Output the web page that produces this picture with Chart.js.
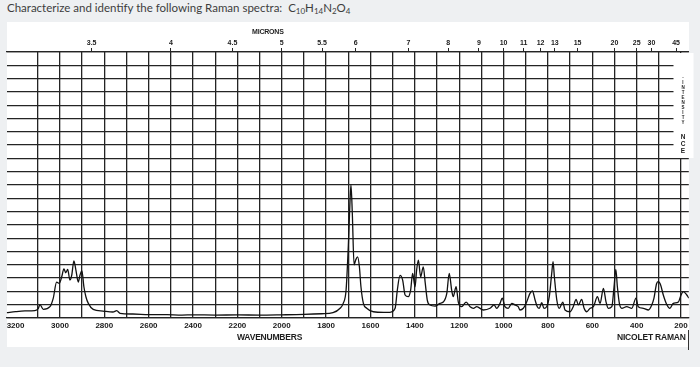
<!DOCTYPE html>
<html>
<head>
<meta charset="utf-8">
<script src="https://cdn.jsdelivr.net/npm/chart.js@4.4.1/dist/chart.umd.min.js"></script>
<style>
  body { margin: 0; background: #eef0f2; width: 700px; height: 367px; overflow: hidden; position: relative; font-family: "Liberation Sans", Arial, sans-serif; }
  #titulo { position: absolute; left: 7px; top: 1px; font-family: Lato, sans-serif; font-size: 11.5px; line-height: 13px; color: #3d3d3d; white-space: nowrap; }
  #titulo sub { font-size: 8px; vertical-align: -2px; line-height: 0; }
  #painel { position: absolute; left: 7px; top: 22px; width: 682px; height: 325px; background: #fff; }
  #grafico1 { position: absolute; left: 0; top: 0; }
  .rotulo { position: absolute; font-weight: bold; color: #1e1e1e; white-space: nowrap; letter-spacing: -0.2px; }
  #barraDir { position: absolute; left: 688px; top: 330px; width: 1px; height: 20px; background: #333; }
  .letra { position: absolute; left: 680px; width: 6px; text-align: center; font-weight: bold; color: #222; line-height: 1; }
</style>
</head>
<body>
<div id="titulo">Characterize and identify the following Raman spectra:&nbsp; C<sub>10</sub>H<sub>14</sub>N<sub>2</sub>O<sub>4</sub></div>
<div id="painel"></div>
<canvas id="grafico1" width="700" height="367"></canvas>
<div class="rotulo" style="left:252px; top:28px; font-size:7px;">MICRONS</div>
<div class="rotulo" style="left:237px; top:332px; font-size:8.5px;">WAVENUMBERS</div>
<div class="rotulo" style="left:617px; top:332px; font-size:8.5px;">NICOLET RAMAN</div>
<div id="barraDir"></div>
<div id="intensidade"></div>
<script>
// espectro Raman (numero de onda em cm-1, intensidade em divisoes da grade)
const numerosOnda = [3240, 3200, 3158, 3113, 3098, 3090, 3075, 3045, 3030, 3015, 3003, 2992, 2982, 2974, 2965, 2955, 2947, 2937, 2928, 2917, 2910, 2901, 2892, 2883, 2872, 2850, 2806, 2761, 2744, 2729, 2671, 2600, 2517, 2450, 2400, 2300, 2200, 2100, 2000, 1900, 1820, 1769, 1737, 1723, 1710, 1700, 1692, 1688, 1682, 1674, 1667, 1658, 1650, 1643, 1632, 1617, 1587, 1540, 1512, 1489, 1479, 1467, 1455, 1444, 1430, 1419, 1410, 1399, 1392, 1384, 1374, 1362, 1353, 1344, 1332, 1309, 1287, 1272, 1256, 1245, 1234, 1227, 1214, 1204, 1189, 1169, 1151, 1136, 1121, 1091, 1061, 1043, 1031, 1016, 1006, 994, 979, 963, 948, 934, 926, 911, 896, 881, 870, 858, 848, 839, 828, 818, 806, 794, 783, 777, 771, 760, 749, 733, 723, 700, 686, 673, 663, 648, 637, 625, 610, 595, 577, 565, 550, 538, 528, 512, 502, 494, 487, 478, 467, 445, 422, 403, 393, 370, 347, 332, 322, 310, 302, 292, 280, 264, 250, 235, 212, 200, 190, 174, 165];
const intensidades = [0.4, 0.48, 0.53, 0.55, 0.7, 1.0, 0.65, 0.85, 1.5, 2.7, 2.6, 3.1, 3.7, 3.4, 3.65, 2.85, 3.2, 4.3, 3.6, 2.7, 3.2, 3.55, 2.35, 1.6, 1.1, 0.65, 0.52, 0.45, 0.55, 0.35, 0.3, 0.26, 0.25, 0.22, 0.24, 0.22, 0.23, 0.22, 0.24, 0.27, 0.32, 0.4, 0.73, 1.1, 2.1, 5.4, 8.9, 10.0, 7.9, 4.0, 4.35, 4.6, 3.85, 2.35, 1.1, 0.73, 0.47, 0.43, 0.43, 0.73, 2.1, 3.2, 2.85, 1.73, 1.6, 2.1, 3.35, 2.35, 3.6, 4.35, 3.1, 3.85, 2.6, 1.35, 0.98, 0.9, 1.1, 1.2, 1.85, 3.35, 2.1, 1.6, 2.35, 1.2, 0.85, 1.2, 0.85, 0.73, 0.85, 0.6, 0.73, 0.98, 0.73, 1.1, 1.5, 0.85, 0.73, 1.1, 0.98, 0.85, 0.6, 0.73, 1.2, 1.85, 2.03, 1.35, 0.85, 0.73, 1.15, 0.73, 0.85, 1.6, 3.35, 4.23, 3.1, 1.35, 0.73, 1.2, 0.6, 0.47, 0.85, 1.4, 0.98, 1.4, 0.73, 0.47, 0.73, 0.85, 1.6, 1.1, 2.23, 1.2, 0.73, 0.85, 2.35, 3.65, 2.35, 1.1, 0.73, 0.85, 0.73, 1.5, 0.85, 0.73, 0.6, 0.98, 1.5, 2.6, 2.73, 2.48, 1.73, 1.0, 0.73, 1.1, 1.2, 1.73, 1.98, 1.73, 1.5];

// eixo de baixo: linhas a cada 100 (a de 3200 nao aparece), rotulo a cada 200
const gradeOnda = [];
for (var w = 200; w <= 3200; w += 100) gradeOnda.push(w);
const rotulosOnda = [200, 400, 600, 800, 1000, 1200, 1400, 1600, 1800, 2000, 2200, 2400, 2600, 2800, 3000, 3200];

// eixo de cima em microns
const microns = [3.5, 4, 4.5, 5, 5.5, 6, 7, 8, 9, 10, 11, 12, 13, 15, 20, 25, 30, 45];

const corGrade = '#242424';

// letras verticais do lado direito
const letrasPequenas = ['-', 'I', 'N', 'T', 'E', 'N', 'S', 'I', 'T', 'Y'];
const letrasGrandes = ['N', 'C', 'E'];
var htmlLetras = '';
for (var i = 0; i < letrasPequenas.length; i++) {
  htmlLetras += `<div class="letra" style="top:${76 + i * 5}px; font-size:4.5px;">${letrasPequenas[i]}</div>`;
}
for (var i = 0; i < letrasGrandes.length; i++) {
  htmlLetras += `<div class="letra" style="top:${134 + i * 7}px; font-size:6.5px;">${letrasGrandes[i]}</div>`;
}
document.getElementById('intensidade').innerHTML = htmlLetras;

const pontos = numerosOnda.map(function (w, i) { return { x: w, y: intensidades[i] }; });

// tapa o canto de cima a direita (onde fica INTENSITY)
const tapaCanto = {
  id: 'tapaCanto',
  afterDraw: function (chart) {
    const ctx = chart.ctx;
    ctx.save();
    ctx.fillStyle = '#fff';
    ctx.fillRect(673.5, chart.chartArea.top + 1, 20, 105);
    ctx.restore();
  }
};

new Chart(document.getElementById('grafico1'), {
  type: 'line',
  data: {
    datasets: [{
      data: pontos,
      borderColor: '#111',
      borderWidth: 1.3,
      pointRadius: 0,
      cubicInterpolationMode: 'monotone',
      fill: false
    }]
  },
  options: {
    responsive: false,
    animation: false,
    devicePixelRatio: 1,
    layout: { padding: { left: 6.7, right: 11.2, top: 30, bottom: 19 } },
    plugins: { legend: { display: false }, tooltip: { enabled: false } },
    scales: {
      x: {
        type: 'linear',
        position: 'bottom',
        min: 165,
        max: 3240,
        reverse: true,
        afterBuildTicks: function (s) { s.ticks = gradeOnda.map(function (v) { return { value: v }; }); },
        afterFit: function (s) { s.height = 30; },
        ticks: {
          autoSkip: false,
          maxRotation: 0,
          padding: 3,
          color: '#1a1a1a',
          font: { family: 'Liberation Sans', size: 8, weight: 'bold' },
          callback: function (v) { return rotulosOnda.indexOf(v) >= 0 ? String(v) : ''; }
        },
        grid: {
          color: function (c) { return c.tick && c.tick.value === 3200 ? 'rgba(0,0,0,0)' : corGrade; },
          lineWidth: 1.3,
          drawTicks: false
        },
        border: { display: true, color: corGrade, width: 1.3 }
      },
      x2: {
        type: 'linear',
        position: 'top',
        min: 165,
        max: 3240,
        reverse: true,
        afterBuildTicks: function (s) { s.ticks = microns.map(function (m) { return { value: 10000 / m }; }); },
        afterFit: function (s) { s.height = 22; },
        ticks: {
          autoSkip: false,
          maxRotation: 0,
          padding: 1,
          color: '#1a1a1a',
          font: { family: 'Liberation Sans', size: 7, weight: 'bold' },
          callback: function (v, i) { return String(microns[i]); }
        },
        grid: { drawOnChartArea: false, color: corGrade, lineWidth: 1, tickLength: 4 },
        border: { display: true, color: corGrade, width: 1.3 }
      },
      y: {
        type: 'linear',
        min: 0,
        max: 20,
        afterFit: function (s) { s.width = 0; },
        ticks: { stepSize: 1, display: false },
        grid: { color: corGrade, lineWidth: 1.3, drawTicks: false },
        border: { display: false }
      }
    }
  },
  plugins: [tapaCanto]
});
</script>
</body>
</html>
